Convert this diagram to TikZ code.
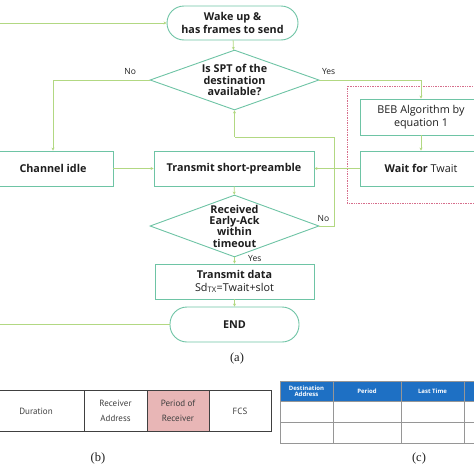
\documentclass[tikz,border=0pt]{standalone}
\usepackage{fontspec}
\setmainfont{Open Sans}
\newfontfamily\tabfont{PT Sans}
\newfontfamily\capfont{Liberation Serif}
\usetikzlibrary{shapes.geometric,arrows.meta}
\definecolor{boxc}{RGB}{110,196,165}
\definecolor{linec}{RGB}{178,216,130}
\definecolor{dotc}{RGB}{214,110,140}
\definecolor{pinkc}{RGB}{232,182,182}
\definecolor{bluec}{RGB}{30,112,196}
\definecolor{gridc}{RGB}{150,150,150}
\definecolor{txtc}{RGB}{30,30,30}
\tikzset{
  fbox/.style={draw=boxc,line width=0.9pt,fill=white,inner sep=1pt,align=center,text=txtc,font=\fontsize{10.8}{12.5}\selectfont\bfseries},
  fround/.style={fbox,rounded corners=17pt},
  fdia/.style={draw=boxc,line width=0.9pt,fill=white,diamond,inner sep=0pt},
  fdtext/.style={align=center,text=txtc,inner sep=0pt,font=\fontsize{10.8}{11.3}\selectfont\bfseries},
  conn/.style={draw=linec,line width=0.8pt,-{Stealth[length=3pt,width=3pt]}},
  plainln/.style={draw=linec,line width=0.8pt},
  lab/.style={font=\fontsize{8.5}{9}\selectfont,text=txtc},
  captxt/.style={font=\capfont\fontsize{12.5}{14}\selectfont,text=txtc},
  tcell/.style={font=\tabfont\fontsize{9}{15}\selectfont,text=txtc!85,align=center},
  hcell/.style={font=\fontsize{6}{6.5}\selectfont\bfseries,text=white,align=center},
}
\begin{document}
\begin{tikzpicture}[x=1pt,y=-1pt]
\useasboundingbox (0,0) rectangle (474,474);
\begin{scope}
\clip (0,0) rectangle (474,474);
% dotted region
\draw[dotc,densely dotted,line width=0.7pt] (347,86) rectangle (490,203);
% nodes
\node[fround,minimum width=131pt,minimum height=34pt] (wake) at (232.5,23) {Wake up \&\\has frames to send};
\node[fdia,minimum width=169pt,minimum height=60pt,label={[fdtext]center:{Is SPT of the\\destination\\available?}}] (d1) at (234.5,80) {};
\node[fbox,minimum width=120pt,minimum height=35pt] (chan) at (53,168.5) {Channel idle};
\node[fbox,minimum width=160pt,minimum height=35pt] (tsp) at (234,168.5) {Transmit short-preamble};
\node[fbox,minimum width=122pt,minimum height=36pt,font=\fontsize{10.8}{12.5}\selectfont] (beb) at (421,117) {BEB Algorithm by\\equation 1};
\node[fbox,minimum width=122pt,minimum height=35pt] (wait) at (421,168.5) {Wait for \mdseries Twait};
\node[fdia,minimum width=169pt,minimum height=62pt,label={[fdtext]center:{Received\\Early-Ack\\within\\timeout}}] (d2) at (234.5,226) {};
\node[fbox,minimum width=159pt,minimum height=35pt,font=\fontsize{10.8}{13}\selectfont\bfseries] (tdata) at (234.5,281.5) {Transmit data\\{\mdseries Sd\textsubscript{TX}=Twait+slot}};
\node[fround,minimum width=129pt,minimum height=35pt] (end) at (234.5,324.5) {END};
\node[captxt] (capa) at (237,358) {(a)};
% connectors
\coordinate (topin) at (-5,23);
\coordinate (endout) at (-5,324.5);
\coordinate (loopa) at (334,226);
\coordinate (loopb) at (334,137);
\coordinate (loopc) at (234.5,137);
\draw[conn] (topin) -- (wake.west);
\draw[conn] (wake) -- (d1);
\draw[conn] (d1.west) -| node[lab,pos=0.1,above=2pt]{No} (chan.north);
\draw[conn] (d1.east) -| node[lab,pos=0.045,above=2pt]{Yes} (beb.north);
\draw[conn] (beb) -- (wait);
\draw[conn] (wait) -- (tsp);
\draw[conn] (chan) -- (tsp);
\draw[conn] (tsp) -- (d2);
\draw[plainln] (d2.east) -- node[lab,pos=0.27,above=1pt]{No} (loopa) -- (loopb) -- (loopc);
\draw[conn] (loopc) -- (d1.south);
\draw[conn] (d2) -- node[lab,pos=0.1,right=10pt]{Yes} (tdata);
\draw[conn] (tdata) -- (end);
\draw[plainln] (end.west) -- (endout);
% table (b)
\fill[pinkc] (147,390) rectangle (209,431);
\draw[black!75,line width=1pt] (-5,390) -- (271,390) -- (271,431) -- (-5,431);
\foreach \x in {84,147,209} \draw[black!75,line width=1pt] (\x,390) -- (\x,431);
\node[tcell] (bdur) at (36,411) {Duration};
\node[tcell] (brec) at (115.5,411) {Receiver\\Address};
\node[tcell] (bper) at (178,411) {Period of\\Receiver};
\node[tcell] (bfcs) at (240,411) {FCS};
\node[captxt] (capb) at (98,458) {(b)};
% table (c)
\fill[bluec] (280,381) rectangle (500,401);
\draw[gridc,line width=0.6pt] (280,381) -- (500,381);
\foreach \y in {401,422,443} \draw[gridc,line width=0.6pt] (280,\y) -- (500,\y);
\foreach \x in {280,333,401,464} \draw[gridc,line width=0.6pt] (\x,381) -- (\x,443);
\node[hcell] (cdst) at (306.5,391) {Destination\\Address};
\node[hcell] (cper) at (367,391) {Period};
\node[hcell] (clast) at (432.5,391) {Last Time};
\node[captxt] (capc) at (419,458) {(c)};
\end{scope}
\end{tikzpicture}
\end{document}
